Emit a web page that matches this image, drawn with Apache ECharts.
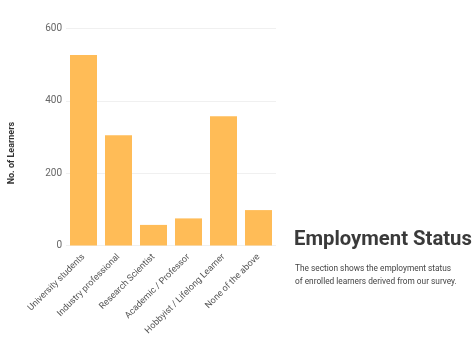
<!DOCTYPE html>
<html><head><meta charset="utf-8">
<script src="https://cdn.jsdelivr.net/npm/echarts@6/dist/echarts.min.js"></script>
<style>html,body{margin:0;padding:0;background:#fff}#c{width:474px;height:355px}</style>
</head><body><div id="c"></div>
<script>
const categories = ["University students","Industry professional","Research Scientist","Academic / Professor","Hobbyist / Lifelong Learner","None of the above"];
const learners = [527, 305, 57, 75, 358, 98];
const yTicks = [0, 200, 400, 600];

const chart = echarts.init(document.getElementById('c'));
chart.setOption({
  animation: false,
  backgroundColor: '#fff',
  title: [{
    text: 'Employment Status',
    left: 294, top: 230, padding: 0,
    textStyle: {fontFamily: 'Roboto', fontWeight: 'bold', fontSize: 20.3, color: '#3a3a3a'}
  },{
    text: 'The section shows the employment status\nof enrolled learners derived from our survey.',
    left: 295, top: 263, padding: 0,
    textStyle: {fontFamily: 'Roboto', fontWeight: 'normal', fontSize: 8.3, lineHeight: 12.7, color: '#444'}
  }],
  grid: {left: 66, right: 198, top: 28.7, bottom: 109.5, containLabel: false},
  xAxis: {
    type: 'category', data: categories,
    axisLine: {show: false}, axisTick: {show: false},
    axisLabel: {rotate: 45, fontFamily: 'Roboto', fontSize: 9, color: '#555', margin: 10, interval: 0}
  },
  yAxis: {
    type: 'value', min: yTicks[0], max: yTicks[yTicks.length-1], interval: 200,
    name: 'No. of Learners', nameLocation: 'middle', nameGap: 50,
    nameTextStyle: {fontFamily: 'Roboto', fontWeight: 'bold', fontSize: 9, color: '#333', padding: [0, 32, 0, 0]},
    axisLine: {show: false}, axisTick: {show: false},
    axisLabel: {fontFamily: 'Roboto', fontSize: 10, color: '#666', margin: 4},
    splitLine: {lineStyle: {color: '#f0f0f0'}}
  },
  series: [{
    type: 'bar', data: learners, barWidth: 27,
    itemStyle: {color: '#FFBC57'}
  }]
});
</script></body></html>
